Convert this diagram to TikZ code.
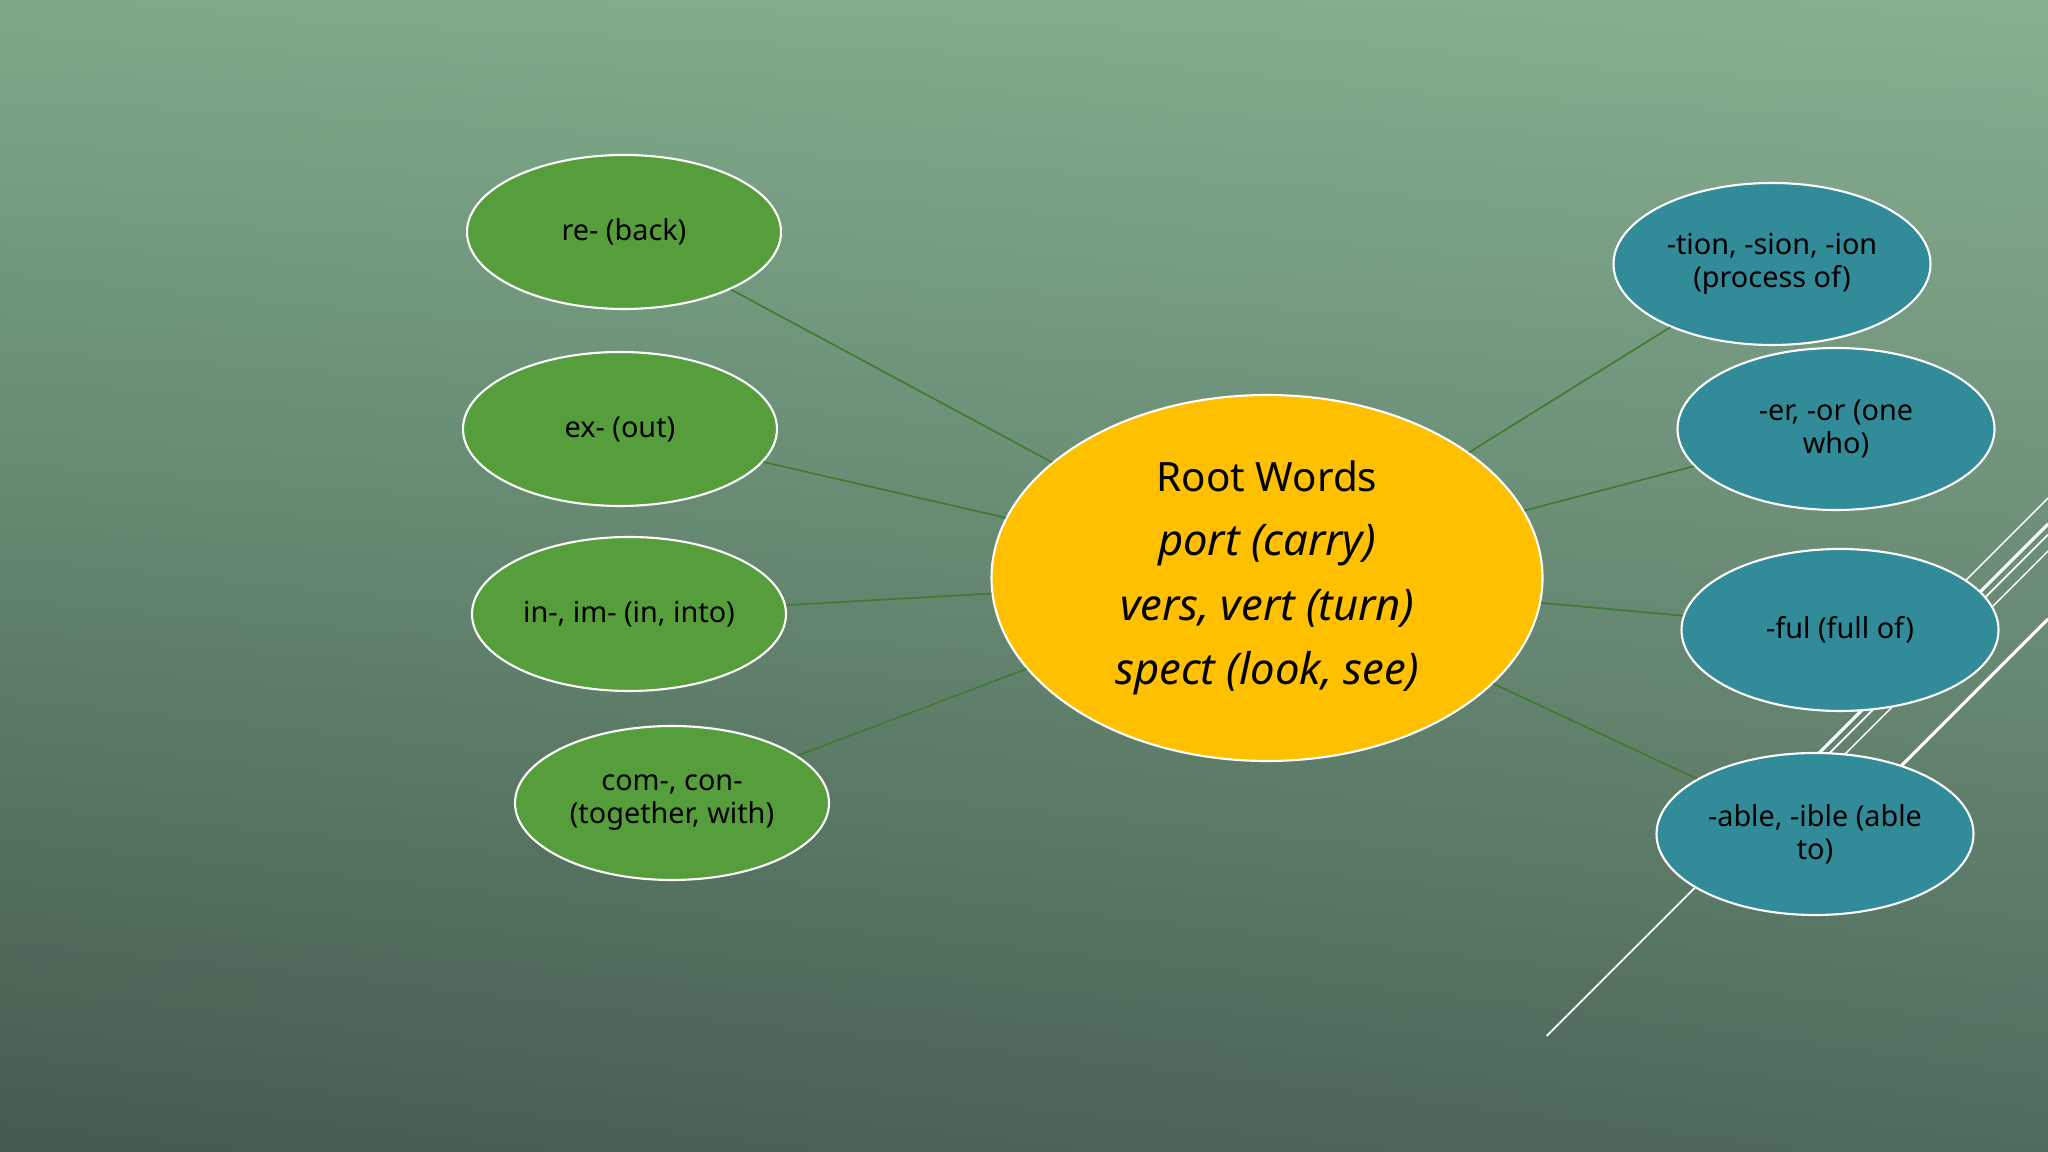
\documentclass[tikz,border=0pt]{standalone}
\usepackage{fontspec}
\setmainfont{Noto Sans}
\usetikzlibrary{shapes.geometric,shadings}
\definecolor{bgTL}{HTML}{7DA98A}
\definecolor{bgTR}{HTML}{87AF91}
\definecolor{bgBL}{HTML}{445B4E}
\definecolor{bgBR}{HTML}{4F6B5C}
\definecolor{prefixgreen}{HTML}{569E3B}
\definecolor{suffixteal}{HTML}{318B98}
\definecolor{rootgold}{HTML}{FFC000}
\definecolor{linkgreen}{HTML}{3F7A2C}
\newcommand{\rootline}[1]{{\fontsize{12.4}{18.3}\selectfont\itshape #1}}

\begin{document}
\begin{tikzpicture}[x=0.1mm,y=-0.1mm,
  bubble/.style={ellipse,draw=white,line width=0.6pt,inner sep=0pt,align=center,text=black,font=\fontsize{8.2}{9.4}\selectfont},
  prefixbub/.style={bubble,fill=prefixgreen,minimum width=31.4mm,minimum height=15.4mm},
  suffixbub/.style={bubble,fill=suffixteal,minimum width=31.7mm,minimum height=16.2mm},
  link/.style={draw=linkgreen,line width=0.45pt}
]
\useasboundingbox (0,0) rectangle (2048,1152);
\shade[upper left=bgTL,upper right=bgTR,lower left=bgBL,lower right=bgBR] (0,0) rectangle (2048,1152);
% slanted strokes, bottom right
\foreach \c/\xa/\w in {2546/1880/0.4pt,2572/1800/0.9pt,2582.7/1546.7/0.5pt,2599/1830/0.4pt,2667/1850/0.9pt}
  \draw[white,line width=\w] (\xa,{\c-\xa}) -- (2048,{\c-2048});
% centre
\node[bubble,fill=rootgold,minimum width=55.1mm,minimum height=36.6mm,font=\fontsize{11.5}{18.3}\selectfont] (root) at (1267,578)
  {Root Words\\\rootline{port (carry)}\\\rootline{vers, vert (turn)}\\\rootline{spect (look, see)}};
% prefixes
\node[prefixbub] (re) at (624,232) {re- (back)};
\node[prefixbub] (ex) at (620,429) {ex- (out)};
\node[prefixbub] (inim) at (629,614) {in-, im- (in, into)};
\node[prefixbub] (com) at (672,803) {com-, con-\\(together, with)};
% suffixes
\node[suffixbub] (tion) at (1772,264) {-tion, -sion, -ion\\(process of)};
\node[suffixbub] (er) at (1836,429) {-er, -or (one\\who)};
\node[suffixbub] (ful) at (1840,630) {-ful (full of)};
\node[suffixbub] (able) at (1815,834) {-able, -ible (able\\to)};
\foreach \n in {re,ex,inim,com,tion,er,ful,able}
  \draw[link] (root) -- (\n);
\end{tikzpicture}
\end{document}
